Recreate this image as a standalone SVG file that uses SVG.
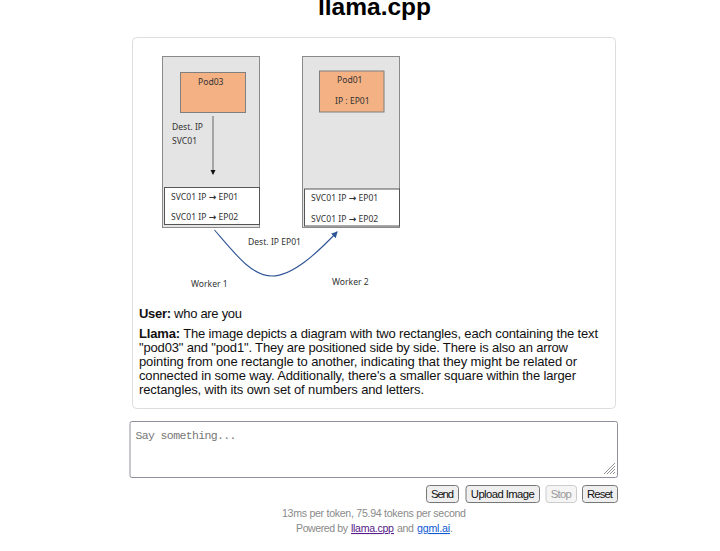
<svg xmlns="http://www.w3.org/2000/svg" width="720" height="551" viewBox="0 0 720 551">
<style>
text{font-family:"Liberation Sans",Arimo,sans-serif;fill:#111}
.d{font-family:"Noto Sans",sans-serif;font-size:8.6px;fill:#333}
.ar{font-family:"DejaVu Sans",sans-serif;font-weight:700;font-size:9px}
.b{font-size:13px}
.box{fill:#e4e4e4;stroke:#8a8a8a;stroke-width:1}
.pod{fill:#f4b183;stroke:#7f7f7f;stroke-width:1}
.tb{fill:#fff;stroke:#555;stroke-width:1}
.btn{fill:#efefef;stroke:#777;stroke-width:1}
.bt{font-size:11.300px;text-anchor:middle}
.foot{font-size:10.600px;fill:#8a8a8a}
</style>
<defs>
<marker id="ak" markerWidth="6" markerHeight="6" refX="4" refY="2.5" orient="auto"><path d="M0 0L5 2.5L0 5Z" fill="#111"/></marker>
<marker id="ab" markerWidth="7" markerHeight="7" refX="5" refY="3" orient="auto"><path d="M0 0L6 3L0 6Z" fill="#2f5597"/></marker>
</defs>
<rect width="720" height="551" fill="#fff"/>
<text x="374.500" y="15" text-anchor="middle" style="font-size:24.500px;font-weight:700;fill:#000">llama.cpp</text>
<rect id="panel" x="132.500" y="37.500" width="483" height="371" rx="4" fill="#fff" stroke="#ddd"/>
<g id="worker1">
<rect class="box" x="162.500" y="56.500" width="97" height="171"/>
<rect class="pod" x="180.500" y="72.500" width="65" height="40"/>
<text class="d" x="198" y="85">Pod03</text>
<text class="d" x="172" y="130">Dest. IP</text>
<text class="d" x="172" y="144">SVC01</text>
<rect class="tb" x="164.500" y="187.500" width="95" height="37"/>
<text class="d" x="171" y="200">SVC01 IP <tspan class="ar">→</tspan> EP01</text>
<text class="d" x="171" y="220">SVC01 IP <tspan class="ar">→</tspan> EP02</text>
<text class="d" x="191" y="287">Worker 1</text>
</g>
<g id="worker2">
<rect class="box" x="302.500" y="56.500" width="97" height="171"/>
<rect class="pod" x="319.500" y="71" width="64.500" height="41"/>
<text class="d" x="337" y="83">Pod01</text>
<text class="d" x="335" y="104">IP : EP01</text>
<rect class="tb" x="304.500" y="189" width="95" height="37"/>
<text class="d" x="311" y="201">SVC01 IP <tspan class="ar">→</tspan> EP01</text>
<text class="d" x="311" y="222">SVC01 IP <tspan class="ar">→</tspan> EP02</text>
<text class="d" x="332" y="285">Worker 2</text>
</g>
<g id="connectors" fill="none">
<path d="M213 116V174" stroke="#666" stroke-width="1" marker-end="url(#ak)"/>
<path d="M214.500 230C236 255 252 276 272 276C293 276 318 252 337 232" stroke="#2f5597" stroke-width="1.100" marker-end="url(#ab)"/>
</g>
<text class="d" x="248" y="245">Dest. IP EP01</text>
<g id="chat">
<text class="b" x="139" y="318" textLength="103"><tspan font-weight="700">User:</tspan> who are you</text>
<text class="b" x="139" y="338" textLength="459"><tspan font-weight="700">Llama:</tspan> The image depicts a diagram with two rectangles, each containing the text</text>
<text class="b" x="139" y="352" textLength="429">"pod03" and "pod1". They are positioned side by side. There is also an arrow</text>
<text class="b" x="139" y="366" textLength="438">pointing from one rectangle to another, indicating that they might be related or</text>
<text class="b" x="139" y="380" textLength="437">connected in some way. Additionally, there's a smaller square within the larger</text>
<text class="b" x="139" y="394" textLength="285">rectangles, with its own set of numbers and letters.</text>
</g>
<g id="input">
<rect x="130" y="421.500" width="487.500" height="56" rx="2" fill="#fff" stroke="#8f8f9d"/>
<text x="135.500" y="439" textLength="101" style="font-family:'Liberation Mono',monospace;font-size:11.500px;fill:#777">Say something...</text>
<path d="M604 474L615 463M607 474L615 466M610 474L615 469M613 474L615 472" stroke="#777" stroke-width="0.800"/>
</g>
<g id="btn-send"><rect class="btn" x="426.500" y="485.500" width="32" height="17" rx="3"/><text class="bt" x="442.500" y="498" textLength="23">Send</text></g>
<g id="btn-upload"><rect class="btn" x="466" y="485.500" width="73.500" height="17" rx="3"/><text class="bt" x="502.800" y="498" textLength="64">Upload Image</text></g>
<g id="btn-stop"><rect x="546" y="485.500" width="30.500" height="17" rx="3" fill="#f5f5f5" stroke="#ccc"/><text class="bt" x="561.300" y="498" textLength="21" style="fill:#999">Stop</text></g>
<g id="btn-reset"><rect class="btn" x="582.500" y="485.500" width="35" height="17" rx="3"/><text class="bt" x="600" y="498" textLength="26">Reset</text></g>
<text class="foot" x="282" y="517" textLength="184">13ms per token, 75.94 tokens per second</text>
<text class="foot" x="296" y="532" textLength="52">Powered by</text>
<text class="foot" x="351" y="532" textLength="43" style="fill:#551a8b;text-decoration:underline">llama.cpp</text>
<text class="foot" x="397" y="532" textLength="17">and</text>
<text class="foot" x="417" y="532" textLength="33" style="fill:#0b57d0;text-decoration:underline">ggml.ai</text>
<text class="foot" x="450" y="532">.</text>
</svg>
